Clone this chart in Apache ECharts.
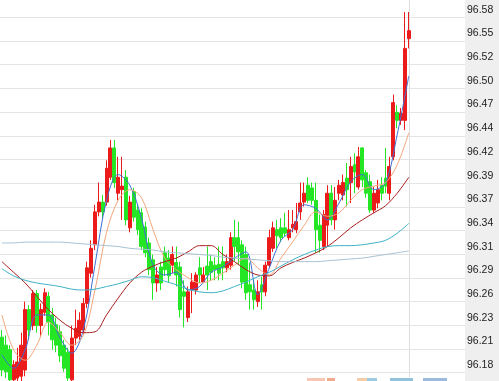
<!DOCTYPE html>
<html><head><meta charset="utf-8">
<script src="https://cdn.jsdelivr.net/npm/echarts@6/dist/echarts.min.js"></script>
<style>html,body{margin:0;padding:0;background:#fff;overflow:hidden}#c{width:499px;height:381px}</style>
</head><body><div id="c"></div>
<script>
// ---- tick labels (bottom to top) ----
const yTicks = ['96.18','96.21','96.23','96.26','96.29','96.31','96.34','96.37','96.39','96.42','96.44','96.47','96.50','96.52','96.55','96.58'];

// ---- candles ----
const opens = [
96.220,96.211,96.206,96.172,96.174,96.176,96.183,96.251,96.233,96.269,
96.233,96.248,96.266,96.245,96.234,96.226,96.211,96.203,96.172,96.219,
96.221,96.228,96.258,96.292,96.324,96.361,96.372,96.372,96.400,96.433,
96.382,96.386,96.400,96.343,96.384,96.363,96.360,96.344,96.326,96.307,
96.281,96.299,96.315,96.309,96.301,96.304,96.299,96.271,96.242,96.273,
96.273,96.298,96.282,96.300,96.305,96.301,96.302,96.305,96.298,96.301,
96.332,96.332,96.324,96.313,96.279,96.273,96.260,96.279,96.271,96.301,
96.320,96.341,96.343,96.343,96.332,96.343,96.341,96.361,96.372,96.391,
96.388,96.374,96.346,96.322,96.346,96.382,96.352,96.382,96.380,96.399,
96.394,96.414,96.389,96.433,96.405,96.395,96.363,96.371,96.391,96.399,
96.382,96.423,96.473,96.464,96.464,96.556];
const closes = [
96.183,96.181,96.172,96.189,96.192,96.211,96.251,96.228,96.269,96.233,
96.251,96.270,96.237,96.217,96.211,96.199,96.185,96.174,96.219,96.230,
96.239,96.258,96.298,96.320,96.361,96.372,96.361,96.410,96.433,96.394,
96.400,96.390,96.352,96.372,96.355,96.341,96.322,96.315,96.296,96.281,
96.290,96.281,96.296,96.289,96.313,96.290,96.251,96.266,96.271,96.282,
96.290,96.290,96.290,96.290,96.293,96.296,96.292,96.298,96.305,96.332,
96.322,96.316,96.282,96.270,96.271,96.262,96.271,96.271,96.301,96.332,
96.343,96.334,96.332,96.337,96.341,96.347,96.350,96.371,96.382,96.374,
96.374,96.341,96.329,96.358,96.382,96.352,96.374,96.391,96.394,96.386,
96.412,96.406,96.423,96.397,96.382,96.363,96.382,96.386,96.382,96.390,
96.412,96.484,96.464,96.472,96.545,96.565];
const lows = [
96.176,96.174,96.165,96.163,96.167,96.170,96.176,96.217,96.228,96.225,
96.220,96.244,96.222,96.206,96.203,96.192,96.181,96.170,96.165,96.211,
96.217,96.224,96.253,96.287,96.318,96.356,96.354,96.368,96.397,96.388,
96.374,96.352,96.346,96.338,96.350,96.335,96.318,96.310,96.290,96.262,
96.271,96.273,96.289,96.281,96.292,96.277,96.242,96.231,96.237,96.247,
96.268,96.281,96.281,96.273,96.284,96.284,96.284,96.284,96.293,96.296,
96.305,96.301,96.275,96.262,96.251,96.251,96.254,96.251,96.266,96.298,
96.316,96.320,96.327,96.333,96.329,96.338,96.337,96.352,96.367,96.371,
96.369,96.315,96.315,96.318,96.322,96.346,96.341,96.374,96.374,96.367,
96.371,96.382,96.386,96.389,96.377,96.360,96.360,96.365,96.374,96.382,
96.374,96.419,96.455,96.459,96.453,96.545];
const highs = [
96.228,96.222,96.211,96.194,96.208,96.225,96.260,96.256,96.273,96.273,
96.258,96.275,96.271,96.253,96.242,96.233,96.217,96.208,96.233,96.251,
96.248,96.264,96.305,96.329,96.369,96.394,96.380,96.419,96.442,96.442,
96.423,96.423,96.408,96.379,96.388,96.369,96.365,96.350,96.332,96.313,
96.299,96.305,96.322,96.318,96.322,96.322,96.305,96.284,96.277,96.292,
96.293,96.310,96.299,96.322,96.313,96.310,96.322,96.322,96.313,96.338,
96.352,96.350,96.329,96.322,96.304,96.284,96.284,96.288,96.305,96.341,
96.350,96.352,96.354,96.360,96.363,96.363,96.371,96.394,96.394,96.400,
96.394,96.394,96.358,96.363,96.391,96.391,96.389,96.397,96.403,96.416,
96.423,96.427,96.434,96.434,96.408,96.403,96.389,96.397,96.400,96.433,
96.423,96.493,96.481,96.478,96.586,96.586];

// ---- moving-average lines, read at these candle positions ----
const maIdx = [0,3,6,9,12,15,18,21,24,27,30,33,36,39,42,45,48,51,54,57,60,63,66,69,72,75,78,81,84,87,90,93,96,99,102,105];
const ma5  = [96.200,96.185,96.206,96.245,96.245,96.219,96.202,96.228,96.301,96.374,96.403,96.391,96.354,96.301,96.290,96.293,96.273,96.277,96.293,96.299,96.309,96.316,96.268,96.298,96.329,96.341,96.369,96.365,96.352,96.371,96.395,96.403,96.386,96.394,96.448,96.514];
const ma10 = [96.245,96.206,96.194,96.211,96.237,96.225,96.211,96.222,96.273,96.338,96.374,96.386,96.377,96.341,96.309,96.296,96.287,96.281,96.284,96.292,96.301,96.309,96.298,96.290,96.309,96.327,96.346,96.361,96.356,96.360,96.374,96.386,96.390,96.394,96.414,96.450];
const ma20 = [96.305,96.293,96.281,96.266,96.251,96.239,96.230,96.225,96.226,96.245,96.264,96.281,96.293,96.300,96.305,96.309,96.316,96.323,96.323,96.313,96.305,96.296,96.290,96.289,96.298,96.304,96.309,96.315,96.322,96.332,96.343,96.352,96.360,96.368,96.382,96.400];
const ma30 = [96.297,96.289,96.284,96.281,96.279,96.277,96.274,96.273,96.274,96.277,96.280,96.284,96.288,96.287,96.283,96.279,96.274,96.271,96.270,96.272,96.277,96.282,96.288,96.293,96.300,96.307,96.313,96.318,96.322,96.323,96.323,96.324,96.326,96.329,96.337,96.348];
const ma60 = [96.326,96.326,96.327,96.327,96.327,96.327,96.326,96.325,96.324,96.323,96.322,96.320,96.319,96.318,96.316,96.315,96.314,96.313,96.312,96.310,96.309,96.308,96.307,96.306,96.305,96.305,96.305,96.305,96.306,96.307,96.308,96.309,96.311,96.313,96.315,96.317];

const slotCount = 120;
const cats = Array.from({length: slotCount}, (_, i) => String(i));
const ohlc = opens.map((o, i) => [o, closes[i], lows[i], highs[i]]);
const pairs = arr => maIdx.map((x, i) => [x, arr[i]]);

const UP = '#ec1b1b', DOWN = '#25e625';
const maLine = (name, arr, color) => ({
  name, type: 'line', data: pairs(arr), smooth: 0.35, symbol: 'none', clip: false,
  lineStyle: { color, width: 1 }, z: 4, silent: true
});

const bgGraphics = [
  { id: 'axisbg', type: 'rect', z: -5, shape: { x: 465, y: 0, width: 34, height: 381 }, style: { fill: '#efefef' } },
  { id: 'l1', type: 'rect', shape: { x: 307, y: 378, width: 18, height: 3 }, style: { fill: '#f8c6b4' } },
  { id: 'l2', type: 'rect', shape: { x: 327, y: 378, width: 8, height: 3 }, style: { fill: '#f3aa8c' } },
  { id: 'l3', type: 'rect', shape: { x: 357, y: 378, width: 10, height: 3 }, style: { fill: '#f6cda6' } },
  { id: 'l4', type: 'rect', shape: { x: 367, y: 378, width: 10, height: 3 }, style: { fill: '#9ccbe2' } },
  { id: 'l5', type: 'rect', shape: { x: 390, y: 378, width: 23, height: 3 }, style: { fill: '#93c2dc' } },
  { id: 'l6', type: 'rect', shape: { x: 423, y: 378, width: 24, height: 3 }, style: { fill: '#9db9dc' } }
];

const chart = echarts.init(document.getElementById('c'), null, { renderer: 'canvas' });
chart.setOption({
  animation: false,
  backgroundColor: '#ffffff',
  grid: { left: 0, right: 34, top: 17.3, bottom: 8.3 },
  xAxis: { type: 'category', data: cats, boundaryGap: true, show: false },
  yAxis: [
    { type: 'value', min: 96.18, max: 96.58, show: false },
    { type: 'value', min: 0, max: 15, interval: 1, position: 'right',
      axisLine: { show: false }, axisTick: { show: false },
      splitLine: { show: true, lineStyle: { color: '#e4e4e4', width: 1 } },
      axisLabel: { margin: 2, formatter: v => yTicks[Math.round(v)], color: '#222',
        fontFamily: 'Liberation Sans, Arial, sans-serif', fontSize: 10.5,
        verticalAlign: 'bottom', padding: [0, 0, 2, 0] } }
  ],
  graphic: bgGraphics,
  series: [
    { type: 'candlestick', data: ohlc, barWidth: 3.6, clip: false, z: 3,
      itemStyle: { color: UP, color0: DOWN, borderColor: UP, borderColor0: DOWN, borderWidth: 1 } },
    maLine('MA5', ma5, '#3f6fd4'),
    maLine('MA10', ma10, '#f2a67c'),
    maLine('MA20', ma20, '#a81e1e'),
    maLine('MA30', ma30, '#3eb2c6'),
    maLine('MA60', ma60, '#a7c2d4')
  ]
});
const vx = Math.round(chart.convertToPixel({ xAxisIndex: 0 }, opens.length - 1)) + 0.5;
chart.setOption({ graphic: bgGraphics.concat([
  { id: 'vline', type: 'line', z: -4, shape: { x1: vx, y1: 0, x2: vx, y2: 377 }, style: { stroke: '#dedede', lineWidth: 1 } }
]) });
</script></body></html>
